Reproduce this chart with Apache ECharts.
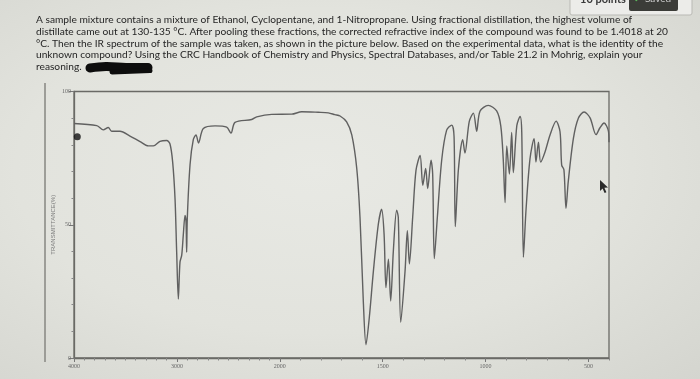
<!DOCTYPE html>
<html><head><meta charset="utf-8">
<script src="https://cdn.jsdelivr.net/npm/echarts@6/dist/echarts.min.js"></script>
<style>
html,body{margin:0;padding:0;width:700px;height:379px;overflow:hidden;}
body{background: radial-gradient(ellipse at 45% 45%, #e8e9e4 0%, #e2e3dd 55%, #d4d5cf 100%);}
#chart{width:700px;height:379px;}
</style></head><body><div id="chart"></div>
<script>
// ---- data ----
const wavenumbers = [4000,3779,3715,3667,3634,3553,3456,3358,3278,3229,
  3164,3099,3067,3041,3018,3002,2986,2970,2953,2938,
  2921,2911,2905,2899,2872,2840,2814,2790,2743,2629,
  2516,2474,2435,2273,2224,2078,1942,1893,1813,1764,
  1732,1707,1675,1650,1626,1610,1594,1581,1565,1545,
  1521,1505,1493,1484,1472,1461,1448,1432,1424,1412,
  1391,1380,1370,1354,1338,1318,1305,1291,1281,1265,
  1257,1249,1234,1213,1189,1164,1153,1147,1132,1111,
  1100,1079,1059,1043,1027,987,946,926,914,905,
  897,884,873,865,848,832,824,816,803,784,
  764,755,743,732,711,687,657,638,630,619,
  609,598,573,549,521,492,463,444,424,403,400];
const transmittance = [88,87.2,85.6,86.5,85.1,85.1,83.3,81.2,79.6,79.6,
  81.3,81.6,80.3,73.5,59.7,39.7,22.1,35.9,38.6,46.0,
  53.5,51.0,39.7,52.2,72.6,82.0,83.7,80.7,86.1,87.1,
  86.6,84.4,88.4,89.5,90.5,91.4,91.5,92.4,92.2,92.0,
  91.3,90.8,88.6,83.7,71.2,52.6,21.3,5.0,15.1,32.6,
  50.2,55.8,46.4,26.4,37.1,21.4,40.2,55.5,52.8,13.4,
  32.8,47.8,35.3,52.9,70.4,76.0,64.8,71.1,63.6,74.2,
  69.2,37.3,53.0,74.3,85.5,87.4,83.1,49.3,70.6,81.9,
  76.9,88.8,91.9,85.1,92.6,94.8,92.7,87.1,74.6,58.3,
  79.6,69.0,84.6,69.6,87.2,90.6,84.7,37.8,55.9,74.7,
  82.3,73.5,81.0,73.5,77.3,83.6,88.9,84.9,72.4,70.6,
  56.2,66.2,82.4,90.0,92.3,90.1,83.8,86.4,88.2,85.2,81];
const xTickLabels = [4000,3000,2000,1500,1000,500];
const xMinorTicks = [3900,3800,3700,3600,3500,3400,3300,3200,3100,2900,2800,2700,2600,2500,2400,2300,2200,2100,
  1900,1800,1700,1600,1400,1300,1200,1100,900,800,700,600,400];
const yLabels = [0,50,100];
const cursorDot = [3968, 83];
const questionLines = [
  "A sample mixture contains a mixture of Ethanol, Cyclopentane, and 1-Nitropropane. Using fractional distillation, the highest volume of",
  "distillate came out at 130-135 \u00B0C. After pooling these fractions, the corrected refractive index of the compound was found to be 1.4018 at 20",
  "\u00B0C. Then the IR spectrum of the sample was taken, as shown in the picture below. Based on the experimental data, what is the identity of the",
  "unknown compound? Using the CRC Handbook of Chemistry and Physics, Spectral Databases, and/or Table 21.2 in Mohrig, explain your",
  "reasoning."
];

// IR axis: linear 4000-2000, doubled scale below 2000 cm-1
const U = w => w >= 2000 ? 4000 - w : 2000 + 2 * (2000 - w);
const W = u => u <= 2000 ? 4000 - u : 2000 - (u - 2000) / 2;

const FONT = 'Lato, "Open Sans", sans-serif';
const cv = document.createElement('canvas').getContext('2d');
cv.font = '10px ' + FONT;
const fs = 10 * 597 / cv.measureText(questionLines[0]).width;

const lineYs = [21.5, 33, 44.8, 56.5, 68];
const graphics = questionLines.map((t, i) => ({
  type: 'text', left: 36, top: lineYs[i] - fs * 0.62, silent: true,
  style: { text: t, fontFamily: FONT, fontSize: fs, fill: '#262626' }
}));
// redaction scribble
graphics.push({ type: 'polyline', silent: true,
  shape: { points: [[90, 68], [106, 66.5], [126, 67.5], [148, 67.5]], smooth: 0.4 },
  style: { stroke: '#0d0d0d', lineWidth: 9, lineCap: 'round', lineJoin: 'round', fill: null } });
graphics.push({ type: 'polyline', silent: true,
  shape: { points: [[112, 72], [150, 70.5]] },
  style: { stroke: '#0d0d0d', lineWidth: 5, lineCap: 'round', fill: null } });
// top-right "10 points" / "Saved" fragment
graphics.push({ type: 'rect', silent: true, shape: { x: 570, y: -10, width: 122, height: 25, r: 2 },
  style: { fill: '#ecece9', stroke: '#b9b9b4', lineWidth: 1 } });
graphics.push({ type: 'text', silent: true, left: 580, top: -6,
  style: { text: '10 points', fontFamily: FONT, fontSize: 11, fontWeight: 'bold', fill: '#3a3a3a' } });
graphics.push({ type: 'rect', silent: true, shape: { x: 629, y: -8, width: 49, height: 19, r: 2 },
  style: { fill: '#3b3c38' } });
graphics.push({ type: 'text', silent: true, left: 634, top: -5,
  style: { text: '\u2714', fontFamily: 'DejaVu Sans', fontSize: 9, fill: '#5cb85c' } });
graphics.push({ type: 'text', silent: true, left: 645, top: -6,
  style: { text: 'Saved', fontFamily: FONT, fontSize: 10, fill: '#cfcfcf' } });
// frame line of the picture on the left
graphics.push({ type: 'line', silent: true, shape: { x1: 45, y1: 83, x2: 45, y2: 362 },
  style: { stroke: '#8c8c87', lineWidth: 1.6 } });
// mouse pointer
graphics.push({ type: 'polygon', silent: true,
  shape: { points: [[600, 180], [600, 191], [602.6, 188.6], [604.6, 193], [606.4, 192.2], [604.4, 187.8], [608, 187.6]] },
  style: { fill: '#2a2a2a' } });

const chart = echarts.init(document.getElementById('chart'), null, { renderer: 'canvas' });
chart.setOption({
  animation: false,
  backgroundColor: 'transparent',
  grid: { left: 74, top: 91.5, width: 535, height: 266.5, show: true,
    borderColor: '#6a6a66', borderWidth: 1.3, backgroundColor: 'transparent' },
  xAxis: [
    { type: 'value', min: 0, max: 5200, interval: 1000, position: 'bottom',
      axisLine: { show: true, onZero: false, lineStyle: { color: '#6a6a66', width: 1.3 } },
      axisTick: { show: true, length: 4, customValues: xTickLabels.map(U), lineStyle: { color: '#777' } },
      axisLabel: { customValues: xTickLabels.map(U), formatter: v => String(Math.round(W(v))),
        fontSize: 6, color: '#666', margin: 5, fontFamily: 'Liberation Serif' },
      splitLine: { show: false } },
    { type: 'value', min: 0, max: 5200, position: 'bottom',
      axisLine: { show: false },
      axisTick: { show: true, length: 2.5, customValues: xMinorTicks.map(U), lineStyle: { color: '#888' } },
      axisLabel: { show: false }, splitLine: { show: false } }
  ],
  yAxis: { type: 'value', min: 0, max: 100, interval: 50,
    axisLine: { show: true, lineStyle: { color: '#6a6a66', width: 1.3 } },
    axisTick: { show: true, length: 5, customValues: yLabels, lineStyle: { color: '#777' } },
    minorTick: { show: true, splitNumber: 5, length: 2.5, lineStyle: { color: '#888' } },
    axisLabel: { fontSize: 6, color: '#666', margin: 3, fontFamily: 'Liberation Serif' },
    splitLine: { show: false }, minorSplitLine: { show: false },
    name: 'TRANSMITTANCE(%)', nameLocation: 'middle', nameGap: 18, nameMoveOverlap: false,
    nameTextStyle: { fontSize: 6, color: '#7a7a7a', fontFamily: 'Liberation Sans' } },
  series: [
    { type: 'line', xAxisIndex: 0, data: wavenumbers.map((w, i) => [U(w), transmittance[i]]),
      showSymbol: false, smooth: 0.3, silent: true,
      lineStyle: { color: '#606060', width: 1.4 } },
    { type: 'scatter', xAxisIndex: 0, data: [[U(cursorDot[0]), cursorDot[1]]], symbolSize: 7,
      silent: true, itemStyle: { color: '#121212' } }
  ],
  graphic: graphics
});
</script></body></html>
